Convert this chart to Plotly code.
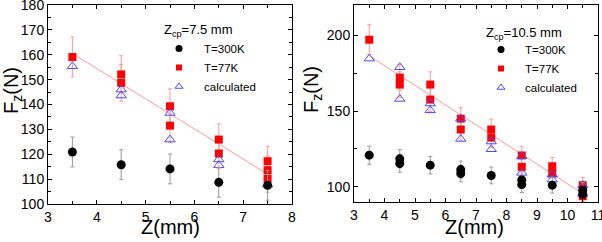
import plotly.graph_objects as go

# ---------------- Left panel (Zcp = 7.5 mm) ----------------
z_left_300 = [3.5, 4.5, 5.5, 6.5, 7.5]
f_left_300 = [120.9, 115.8, 114.1, 108.7, 107.5]
e_left_300 = [6.0, 6.0, 6.0, 6.0, 6.0]

z_left_77 = [3.5, 4.5, 4.5, 5.5, 5.5, 6.5, 6.5, 7.5, 7.5, 7.5]
f_left_77 = [159.1, 152.1, 148.7, 139.3, 131.5, 125.9, 120.3, 117.2, 113.6, 110.2]
e_left_77 = [8.0, 7.5, 7.4, 7.0, 6.6, 6.3, 6.0, 6.0, 5.7, 5.5]

z_left_calc = [3.5, 4.5, 4.5, 5.5, 5.5, 6.5, 6.5, 7.5]
f_left_calc = [155.4, 146.0, 143.6, 136.6, 125.9, 117.9, 115.6, 107.8]

z_left_fit = [3.5, 7.5]
f_left_fit = [160.5, 112.0]

# ---------------- Right panel (Zcp = 10.5 mm) ----------------
z_right_300 = [3.5, 4.5, 4.5, 5.5, 6.5, 6.5, 7.5, 8.5, 8.5, 9.5, 10.5, 10.5]
f_right_300 = [120.9, 118.5, 115.4, 114.3, 111.4, 108.8, 107.5, 104.6, 101.5, 101.1, 97.8, 95.0]
e_right_300 = [6.0, 6.0, 5.8, 5.8, 5.6, 5.5, 5.5, 5.3, 5.2, 5.2, 5.0, 5.0]

z_right_77 = [3.5, 4.5, 4.5, 5.5, 5.5, 6.5, 6.5, 7.5, 7.5, 8.5, 8.5, 9.5, 9.5, 10.5, 10.5]
f_right_77 = [197.1, 172.1, 167.5, 167.5, 157.6, 145.0, 137.8, 137.8, 132.5, 120.7, 113.2, 113.6, 108.8, 101.1, 93.8]
e_right_77 = [9.9, 8.6, 8.4, 8.4, 7.9, 7.3, 6.9, 6.9, 6.6, 6.0, 5.7, 5.7, 5.4, 5.1, 4.7]

z_right_calc = [3.5, 4.5, 4.5, 5.5, 5.5, 6.5, 6.5, 7.5, 7.5, 8.5, 8.5, 9.5, 9.5, 10.5, 10.5]
f_right_calc = [184.6, 178.9, 158.0, 155.0, 150.5, 145.0, 131.6, 129.9, 124.8, 120.2, 109.2, 108.1, 104.8, 101.1, 95.4]

z_right_fit = [3.5, 10.5]
f_right_fit = [186.5, 95.5]

legend_names = ["T=300K", "T=77K", "calculated"]
panel_titles = ["Z<sub>cp</sub>=7.5 mm", "Z<sub>cp</sub>=10.5 mm"]
x_title = "Z(mm)"
y_title = "F<sub>z</sub>(N)"

FONT = "Liberation Sans, Arial, sans-serif"
RED = "#ff0000"
BLUE = "#4a4aff"
FIT = "#ff9a9a"

fig = go.Figure()


def add_panel(xa, ya, z300, f300, e300, z77, f77, e77, zc, fc, zf, ff, leg):
    fig.add_trace(go.Scatter(x=zf, y=ff, mode="lines", line=dict(color=FIT, width=1),
                             xaxis=xa, yaxis=ya, showlegend=False))
    fig.add_trace(go.Scatter(x=z77, y=f77, mode="markers",
                             marker=dict(symbol="square", size=8, color=RED),
                             error_y=dict(type="data", array=e77, color="#ff9a9a", thickness=1, width=2),
                             xaxis=xa, yaxis=ya, showlegend=False))
    fig.add_trace(go.Scatter(x=zc, y=fc, mode="markers",
                             marker=dict(symbol="triangle-up-open", size=9, color=BLUE,
                                         line=dict(width=1, color=BLUE)),
                             xaxis=xa, yaxis=ya, showlegend=False))
    fig.add_trace(go.Scatter(x=z300, y=f300, mode="markers",
                             marker=dict(symbol="circle", size=9, color="black"),
                             error_y=dict(type="data", array=e300, color="#999999", thickness=1, width=2),
                             xaxis=xa, yaxis=ya, showlegend=False))
    styles = [dict(symbol="circle", size=7, color="black"),
              dict(symbol="square", size=6, color=RED),
              dict(symbol="triangle-up-open", size=7, color=BLUE, line=dict(width=1, color=BLUE))]
    for name, st in zip(legend_names, styles):
        fig.add_trace(go.Scatter(x=[None], y=[None], mode="markers", marker=st, name=name,
                                 xaxis=xa, yaxis=ya, legend=leg, showlegend=True))


add_panel("x", "y", z_left_300, f_left_300, e_left_300, z_left_77, f_left_77, e_left_77,
          z_left_calc, f_left_calc, z_left_fit, f_left_fit, "legend")
add_panel("x2", "y2", z_right_300, f_right_300, e_right_300, z_right_77, f_right_77, e_right_77,
          z_right_calc, f_right_calc, z_right_fit, f_right_fit, "legend2")

W, H = 602, 242

axis_common = dict(showline=True, linecolor="black", linewidth=1, mirror="ticks",
                   ticks="inside", ticklen=4, tickcolor="black", showgrid=False, zeroline=False,
                   automargin=False, ticklabeloverflow="allow",
                   tickfont=dict(size=14, color="black", family=FONT))

fig.update_layout(
    width=W, height=H,
    margin=dict(l=0, r=0, t=0, b=0),
    paper_bgcolor="white", plot_bgcolor="white",
    font=dict(family=FONT, color="black"),
    xaxis=dict(domain=[48 / W, 292 / W], range=[3, 8], dtick=1, anchor="y",
               minor=dict(dtick=0.5, ticks="inside", ticklen=3, tickcolor="black"),
               **axis_common),
    yaxis=dict(domain=[(H - 204) / H, (H - 5) / H], range=[100, 180], dtick=10, anchor="x",
               minor=dict(dtick=5, ticks="inside", ticklen=3, tickcolor="black"),
               **axis_common),
    xaxis2=dict(domain=[354 / W, 598 / W], range=[3, 11], dtick=1, anchor="y2",
                minor=dict(dtick=0.5, ticks="inside", ticklen=3, tickcolor="black"),
                **axis_common),
    yaxis2=dict(domain=[(H - 202) / H, (H - 5) / H], range=[90, 220], dtick=50, anchor="x2",
                minor=dict(dtick=25, ticks="inside", ticklen=3, tickcolor="black"),
                **axis_common),
    legend=dict(x=154 / W, y=(H - 34) / H, xanchor="left", yanchor="top",
                bgcolor="rgba(0,0,0,0)", font=dict(size=11.5), tracegroupgap=0,
                itemwidth=40, itemsizing="trace"),
    legend2=dict(x=477 / W, y=(H - 35) / H, xanchor="left", yanchor="top",
                 bgcolor="rgba(0,0,0,0)", font=dict(size=11.5), tracegroupgap=0,
                 itemwidth=38, itemsizing="trace"),
)

title_font = dict(size=20, family=FONT, color="black")
for xc in (170, 474):
    fig.add_annotation(text=x_title, xref="paper", yref="paper", x=xc / W, y=(H - 227) / H,
                       xanchor="center", yanchor="middle", showarrow=False, font=title_font)
for xc, yc in [(13, 91), (312, 90)]:
    fig.add_annotation(text=y_title, xref="paper", yref="paper", x=xc / W, y=(H - yc) / H,
                       xanchor="center", yanchor="middle", showarrow=False, textangle=-90,
                       font=title_font)
for txt, xl, yc in [(panel_titles[0], 162, 30), (panel_titles[1], 484, 33)]:
    fig.add_annotation(text=txt, xref="paper", yref="paper", x=xl / W, y=(H - yc) / H,
                       xanchor="left", yanchor="middle", showarrow=False,
                       font=dict(size=13, family=FONT, color="black"))

fig.write_html("out.html", config={"displayModeBar": False},
               post_script="document.body.style.margin='0';")
